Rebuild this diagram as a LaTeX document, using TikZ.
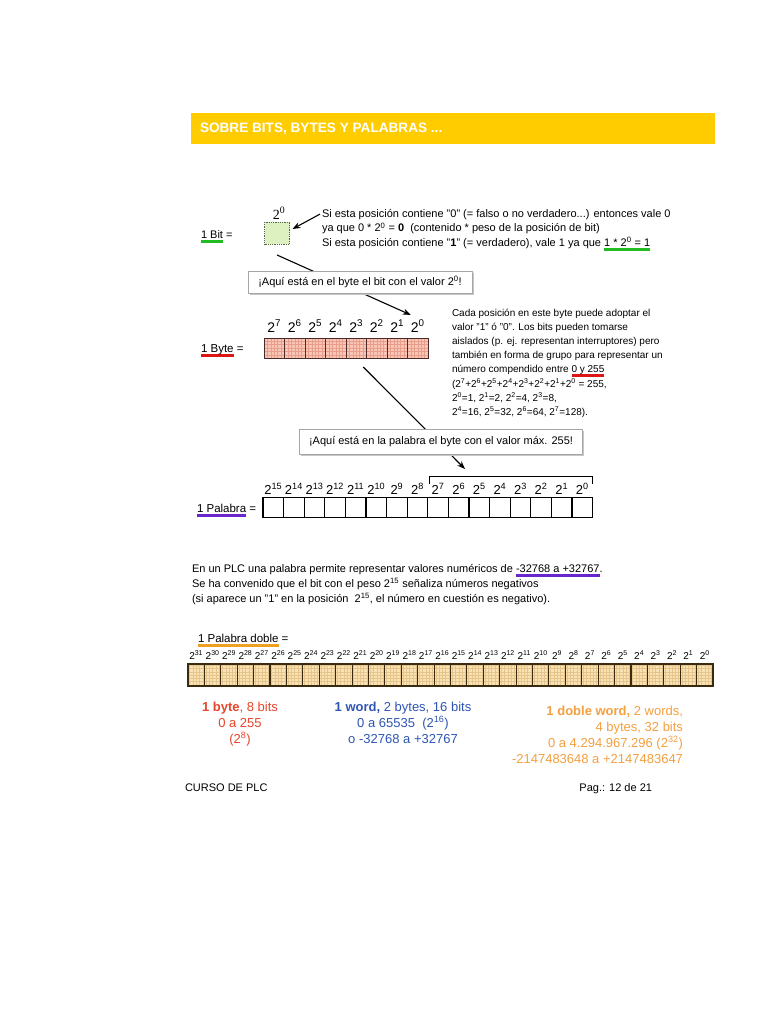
\documentclass[tikz,border=0pt]{standalone}
\usepackage{fontspec}
\setmainfont{Liberation Sans}
\newfontfamily\serifnum{Liberation Serif}
\usetikzlibrary{arrows.meta,shadows}
\definecolor{hdr}{HTML}{FFCC00}
\definecolor{ulgreen}{HTML}{22BB22}
\definecolor{ulred}{HTML}{DD1515}
\definecolor{ulpurple}{HTML}{6A26CC}
\definecolor{ulorange}{HTML}{F0A020}
\definecolor{bitfill}{HTML}{DDF0C0}
\definecolor{bitborder}{HTML}{556644}
\definecolor{bytefill}{HTML}{F7C6B6}
\definecolor{bytegrid}{HTML}{E99E8C}
\definecolor{byteborder}{HTML}{4A2A2A}
\definecolor{dwfill}{HTML}{F9E3B4}
\definecolor{dwgrid}{HTML}{E6C58C}
\definecolor{dwborder}{HTML}{3A2A10}
\definecolor{cred}{HTML}{E8452C}
\definecolor{cblue}{HTML}{2F55B5}
\definecolor{corange}{HTML}{F4A040}
\newcommand\myul[3][2.4pt]{\setbox0\hbox{#3}\rlap{\color{#2}\rule[-4.5pt]{\wd0}{#1}}\box0\relax}
\newcommand\sq[1]{\textsuperscript{#1}}
\begin{document}
\begin{tikzpicture}[x=1pt,y=-1pt,
  every node/.style={inner sep=0pt,outer sep=0pt},
  txt/.style={anchor=base west,font=\fontsize{11}{13}\selectfont},
  smtxt/.style={anchor=base west,font=\fontsize{10}{12}\selectfont},
  ctr/.style={anchor=base,font=\fontsize{13}{15}\selectfont},
  rgt/.style={anchor=base east,font=\fontsize{13}{15}\selectfont},
  arr/.style={-{Stealth[length=8pt,width=6pt]},line width=1.1pt},
  callout/.style={draw=gray!70,fill=white,line width=0.6pt,font=\fontsize{11}{13}\selectfont,
    drop shadow={shadow xshift=1.5pt,shadow yshift=-1.5pt,fill=gray!45,opacity=1}},
  bytecell/.style={draw=byteborder,line width=1pt,minimum width=20.5pt,minimum height=20pt,fill=bytefill,
    path picture={\draw[bytegrid,line width=0.35pt] (path picture bounding box.south west) grid[step=3.4pt] (path picture bounding box.north east);}},
  wordcell/.style={draw=black,line width=1.3pt,minimum width=20.6pt,minimum height=19.5pt,fill=white},
  dwcell/.style={draw=dwborder,line width=1.1pt,minimum width=16.406pt,minimum height=22pt,fill=dwfill,
    path picture={\draw[dwgrid,line width=0.35pt] (path picture bounding box.south west) grid[step=3.3pt] (path picture bounding box.north east);}},
  pwb/.style={anchor=base,font=\fontsize{14}{16}\selectfont},
  pw/.style={anchor=base,font=\fontsize{13}{15}\selectfont},
  pws/.style={anchor=base,font=\fontsize{10}{12}\selectfont}
]
\useasboundingbox (0,0) rectangle (768,1024);
\fill[white] (0,0) rectangle (768,1024);

% header
\node[fill=hdr,minimum width=524pt,minimum height=31pt,anchor=north west] (hdr) at (191,113) {};
\node[anchor=base west,text=white,font=\bfseries\fontsize{13.6}{15}\selectfont] (title) at (200,133) {SOBRE BITS, BYTES Y PALABRAS ...};

% 1 bit
\node[txt] (bitlbl) at (201,238) {\myul{ulgreen}{1 Bit} =};
\node[draw=bitborder,densely dotted,line width=0.8pt,fill=bitfill,minimum width=25pt,minimum height=22pt] (bitbox) at (277,233) {};
\node[anchor=base,font=\serifnum\fontsize{14}{16}\selectfont] (bitpow) at (279,219) {2\sq{0}};
\node[txt] (b1) at (322,218) {Si esta posición contiene "0" (= falso o no verdadero...) entonces vale 0};
\node[txt] (b2) at (322,232) {ya que 0 * 2\sq{0} = \textbf{0}\ \ (contenido * peso de la posición de bit)};
\node[txt] (b3) at (322,246) {Si esta posición contiene "\textbf{1}" (= verdadero), vale 1 ya que \myul{ulgreen}{1 * 2\sq{0} = 1}};
\draw[arr] ([shift={(-2,-1)}]b1.west) -- ([shift={(3,-4)}]bitbox.east);

% 1 byte
\node[txt,font=\fontsize{11.5}{13}\selectfont] (bytelbl) at (201,352) {\myul{ulred}{1 Byte} =};
\foreach \i in {0,...,7}{
  \node[bytecell] (by\i) at ({264+20.5*(7-\i)+10.25},348) {};
  \node[pwb] (lb\i) at ({264+20.5*(7-\i)+10.25},332) {2\sq{\i}};
}
\coordinate (a2s) at (277,255);
\draw[arr] (a2s) -- ([shift={(-7,-5)}]lb0.north);
\node[callout,minimum width=224pt,minimum height=22pt] (c1) at (360,282) {¡Aquí está en el byte el bit con el valor 2\sq{0}!};

\node[smtxt] (t1) at (452,316) {Cada posición en este byte puede adoptar el};
\node[smtxt] (t2) at (452,330) {valor "1" ó "0". Los bits pueden tomarse};
\node[smtxt] (t3) at (452,344) {aislados (p. ej. representan interruptores) pero};
\node[smtxt] (t4) at (452,358) {también en forma de grupo para representar un};
\node[smtxt] (t5) at (452,372) {número compendido entre \myul{ulred}{0 y 255}};
\node[smtxt] (t6) at (452,387) {(2\sq{7}+2\sq{6}+2\sq{5}+2\sq{4}+2\sq{3}+2\sq{2}+2\sq{1}+2\sq{0} = 255,};
\node[smtxt] (t7) at (452,401) {2\sq{0}=1, 2\sq{1}=2, 2\sq{2}=4, 2\sq{3}=8,};
\node[smtxt] (t8) at (452,415) {2\sq{4}=16, 2\sq{5}=32, 2\sq{6}=64, 2\sq{7}=128).};

% 1 palabra
\node[txt,font=\fontsize{11.5}{13}\selectfont] (wordlbl) at (197,512) {\myul[2.8pt]{ulpurple}{1 Palabra} =};
\foreach \i in {0,...,15}{
  \node[wordcell] (wc\i) at ({263+20.6*(15-\i)+10.3},507.5) {};
  \node[pw] (lw\i) at ({263+20.6*(15-\i)+10.3},494) {2\sq{\i}};
}
\draw[line width=1.3pt] ([shift={(2,-14)}]wc7.north west) -- ++(0,-7) -| ([shift={(0,-14)}]wc0.north east);
\coordinate (a3e) at (465,469);
\draw[arr] ([shift={(7,9)}]by3.south) -- (a3e);
\node[callout,minimum width=283pt,minimum height=25pt] (c2) at (441,442) {¡Aquí está en la palabra el byte con el valor máx. 255!};

% PLC text
\node[txt] (p1) at (192,572) {En un PLC una palabra permite representar valores numéricos de \myul[2.8pt]{ulpurple}{-32768 a +32767}.};
\node[txt] (p2) at (192,587) {Se ha convenido que el bit con el peso 2\sq{15} señaliza números negativos};
\node[txt] (p3) at (192,602) {(si aparece un "1" en la posición\ \ 2\sq{15}, el número en cuestión es negativo).};

% palabra doble
\node[txt,font=\fontsize{11.5}{13}\selectfont] (dwlbl) at (198,642) {\myul[2.8pt]{ulorange}{1 Palabra doble} =};
\foreach \i in {0,...,31}{
  \node[dwcell] (dc\i) at ({188+16.406*(31-\i)+8.203},675) {};
  \node[pws] (ld\i) at ({188+16.406*(31-\i)+8.203},659) {2\sq{\i}};
}

% summaries
\node[ctr,text=cred] (r1) at (240,711) {\textbf{1 byte}, 8 bits};
\node[ctr,text=cred] (r2) at (240,727) {0 a 255};
\node[ctr,text=cred] (r3) at (240,743) {(2\sq{8})};
\node[ctr,text=cblue] (u1) at (403,711) {\textbf{1 word,} 2 bytes, 16 bits};
\node[ctr,text=cblue] (u2) at (403,727) {0 a 65535\ \ (2\sq{16})};
\node[ctr,text=cblue] (u3) at (403,743) {o -32768 a +32767};
\node[rgt,text=corange] (o1) at (683,715) {\textbf{1 doble word,} 2 words,};
\node[rgt,text=corange] (o2) at (683,731) {4 bytes, 32 bits};
\node[rgt,text=corange] (o3) at (683,747) {0 a 4.294.967.296 (2\sq{32})};
\node[rgt,text=corange] (o4) at (683,763) {-2147483648 a +2147483647};

% footer
\node[txt,font=\fontsize{11}{13}\selectfont] (f1) at (185,791) {CURSO DE PLC};
\node[anchor=base east,font=\fontsize{11}{13}\selectfont] (f2) at (652,791) {Pag.: 12 de 21};
\end{tikzpicture}
\end{document}
